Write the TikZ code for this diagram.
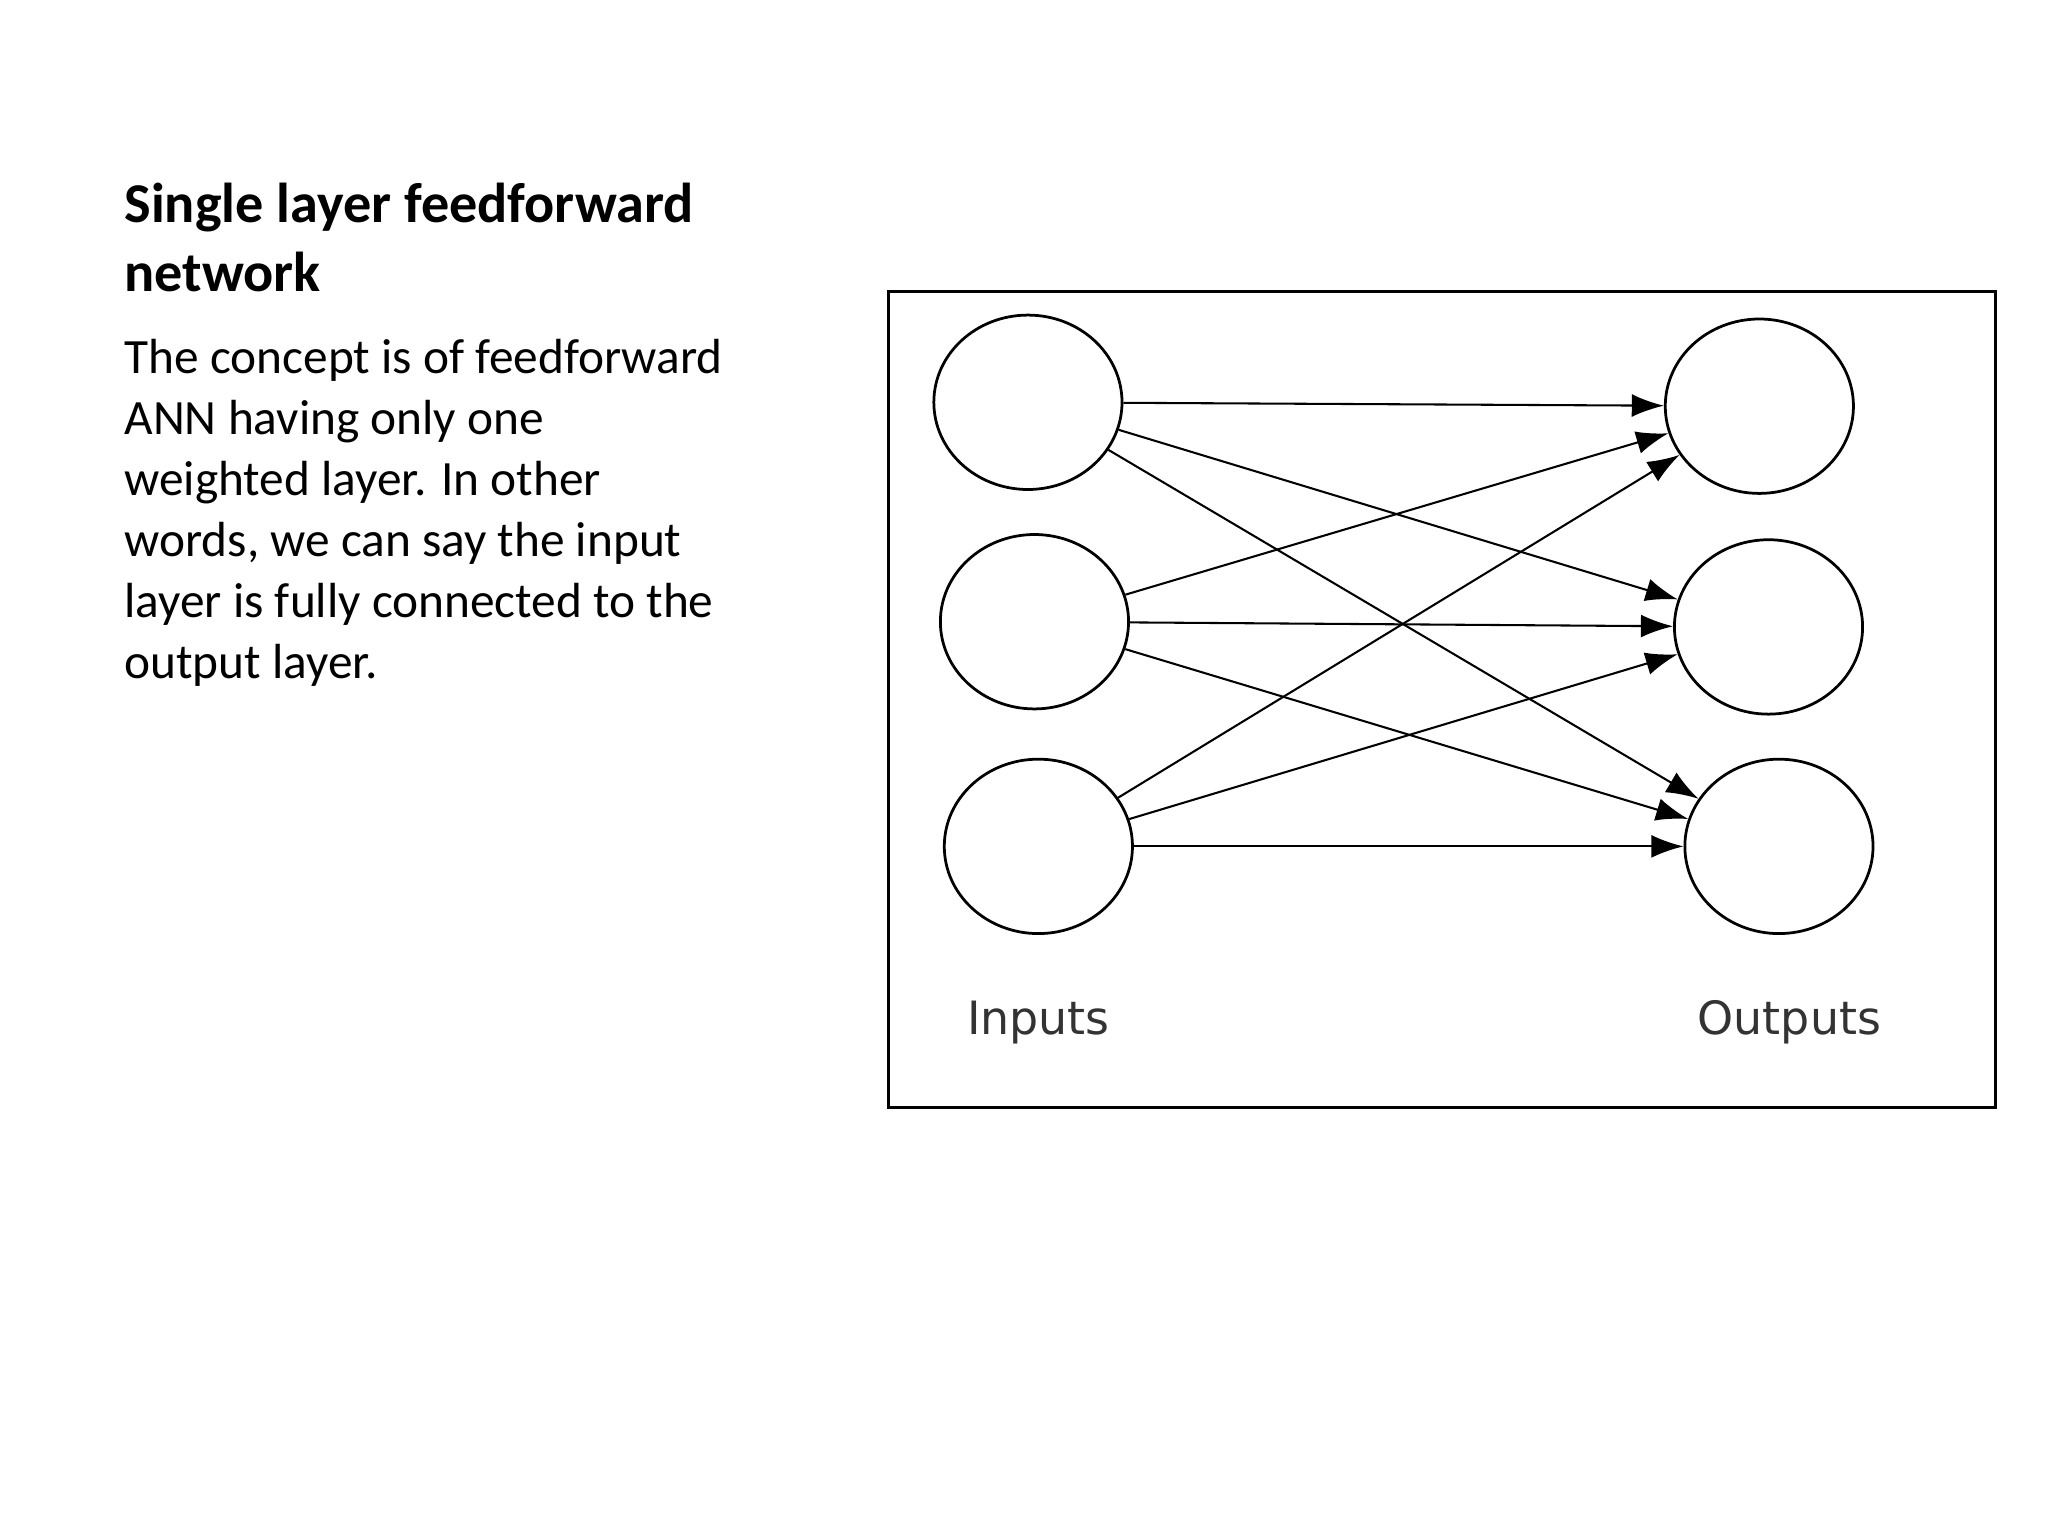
\documentclass[tikz,border=0pt]{standalone}
\usepackage{fontspec}
\setmainfont{Carlito}
\newfontfamily\lblfont{DejaVu Sans}
\usetikzlibrary{shapes.geometric,arrows.meta}
\begin{document}
\begin{tikzpicture}[x=0.02cm,y=-0.02cm,
  neuron/.style={draw,ellipse,line width=1.2pt,minimum width=82pt,minimum height=76pt,inner sep=0pt},
  conn/.style={line width=0.9pt,-{Latex[length=14pt,width=10pt]}},
  body/.style={anchor=north west,align=left,inner sep=0pt,font=\fontsize{21.5}{26.6}\selectfont}]
\useasboundingbox (0,0) rectangle (1568,1176);
\node[body,font=\fontsize{24.5}{30}\selectfont\bfseries] (title) at (95,140) {Single layer feedforward\\network};
\node[body] (txt) at (95,259) {The concept is of feedforward\\ANN having only one\\weighted layer. In other\\words, we can say the input\\layer is fully connected to the\\output layer.};
\draw[line width=1.3pt] (680,223) rectangle (1528,848);
\node[neuron] (i1) at (787,308) {};
\node[neuron] (i2) at (792,476) {};
\node[neuron] (i3) at (795,648) {};
\node[neuron] (o1) at (1347,311) {};
\node[neuron] (o2) at (1354,480) {};
\node[neuron] (o3) at (1362,648) {};
\foreach \i in {1,2,3}{\foreach \o in {1,2,3}{\draw[conn] (i\i) -- (o\o);}}
\node[font=\lblfont\fontsize{20}{24}\selectfont,text=black!80] (lin) at (795,783) {Inputs};
\node[font=\lblfont\fontsize{20}{24}\selectfont,text=black!80] (lout) at (1370,783) {Outputs};
\end{tikzpicture}
\end{document}
